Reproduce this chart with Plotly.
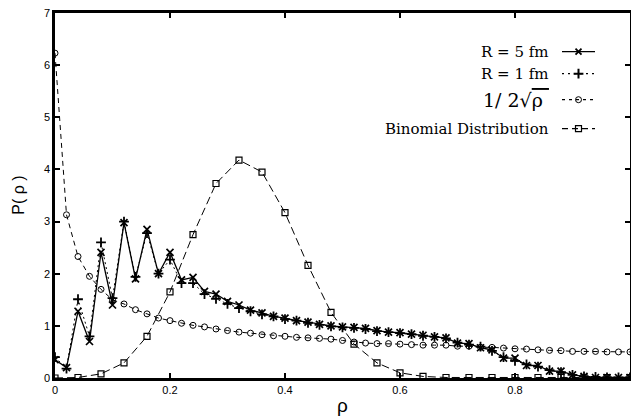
import plotly.graph_objects as go

# x grids
rho_fine = [round(0.02 * i, 2) for i in range(51)]
rho_binom = [round(0.04 * i, 2) for i in range(26)]

p_r5 = [0.35, 0.20, 1.28, 0.70, 2.41, 1.40, 2.98, 1.90, 2.85, 2.00,
        2.41, 1.88, 1.93, 1.66, 1.61, 1.47, 1.40, 1.30, 1.25, 1.18,
        1.15, 1.10, 1.07, 1.03, 1.00, 0.98, 0.97, 0.95, 0.91, 0.88,
        0.87, 0.84, 0.82, 0.79, 0.77, 0.67, 0.66, 0.58, 0.54, 0.38,
        0.38, 0.24, 0.24, 0.13, 0.13, 0.06, 0.03, 0.01, 0.01, 0.01, 0.01]
p_r1 = [0.40, 0.18, 1.51, 0.80, 2.60, 1.53, 3.00, 1.94, 2.78, 2.00,
        2.27, 1.82, 1.82, 1.61, 1.52, 1.42, 1.34, 1.28, 1.22, 1.18,
        1.13, 1.10, 1.06, 1.02, 0.99, 0.97, 0.96, 0.94, 0.90, 0.88,
        0.86, 0.84, 0.81, 0.79, 0.76, 0.68, 0.64, 0.60, 0.52, 0.40,
        0.33, 0.26, 0.22, 0.15, 0.11, 0.06, 0.03, 0.02, 0.01, 0.01, 0.01]
p_sqrt = [6.23, 3.13, 2.33, 1.95, 1.70, 1.50, 1.42, 1.31, 1.23, 1.15,
          1.10, 1.05, 1.01, 0.98, 0.94, 0.91, 0.88, 0.86, 0.83, 0.81,
          0.80, 0.78, 0.77, 0.76, 0.745, 0.72, 0.69, 0.67, 0.66, 0.66,
          0.65, 0.64, 0.63, 0.63, 0.63, 0.61, 0.61, 0.59, 0.587, 0.574,
          0.56, 0.555, 0.54, 0.53, 0.525, 0.51, 0.51, 0.51, 0.50, 0.50, 0.50]
p_binom = [0.00, 0.01, 0.08, 0.29, 0.80, 1.65, 2.75, 3.73, 4.18, 3.95,
           3.17, 2.16, 1.26, 0.65, 0.29, 0.10, 0.03, 0.01, 0.01, 0.01,
           0.01, 0.01, 0.01, 0.01, 0.01, 0.01]

legend_labels = ["R = 5 fm", "R = 1 fm",
                 "1/ 2\u221a<span style='text-decoration:overline'>\u03c1 </span>",
                 "Binomial Distribution"]

BLACK = "#000000"
SANS = "Liberation Sans, Arial, sans-serif"
SERIF = "DejaVu Serif, serif"
fig = go.Figure()

fig.add_trace(go.Scatter(x=rho_binom, y=p_binom, mode="lines+markers",
    line=dict(color=BLACK, width=1, dash="8px,4px"),
    marker=dict(symbol="square-open", size=6, color=BLACK, line=dict(width=1.2))))
fig.add_trace(go.Scatter(x=rho_fine, y=p_sqrt, mode="lines+markers",
    line=dict(color=BLACK, width=1, dash="5px,4px"),
    marker=dict(symbol="circle-open", size=6, color=BLACK, line=dict(width=1))))
fig.add_trace(go.Scatter(x=rho_fine, y=p_r1, mode="lines+markers",
    line=dict(color=BLACK, width=1, dash="2px,3px"),
    marker=dict(symbol="cross-thin-open", size=7, color=BLACK, line=dict(width=1.8))))
fig.add_trace(go.Scatter(x=rho_fine, y=p_r5, mode="lines+markers",
    line=dict(color=BLACK, width=1.3),
    marker=dict(symbol="x-thin-open", size=7, color=BLACK, line=dict(width=1.7))))

# legend (text left, sample right) on a pixel overlay axis
rows_y = [52, 74, 100, 129]
samples = [
    dict(dash="solid", symbol="x-thin-open", size=6, lw=1.8),
    dict(dash="2px,4px", symbol="cross-thin-open", size=7, lw=2),
    dict(dash="3px,4px", symbol="circle-open", size=6, lw=1),
    dict(dash="6px,4px", symbol="square-open", size=6, lw=1.2),
]
for lab, yy, s in zip(legend_labels, rows_y, samples):
    fig.add_trace(go.Scatter(x=[562, 595], y=[yy, yy], mode="lines",
        line=dict(color=BLACK, width=1.2, dash=s["dash"]),
        xaxis="x2", yaxis="y2", showlegend=False, hoverinfo="skip"))
    fig.add_trace(go.Scatter(x=[578.5], y=[yy], mode="markers",
        marker=dict(symbol=s["symbol"], size=s["size"], color=BLACK, line=dict(width=s["lw"])),
        xaxis="x2", yaxis="y2", showlegend=False, hoverinfo="skip"))
    big = lab.startswith("1/")
    fig.add_annotation(x=551, y=yy, xref="x2", yref="y2", text=lab, showarrow=False,
        xanchor="right", yanchor="middle",
        font=dict(family=SERIF, size=19 if big else 15, color=BLACK))

# axis titles
fig.add_annotation(x=0.5, y=-0.075, xref="paper", yref="paper", text="\u03c1", showarrow=False,
                   xanchor="center", yanchor="middle", font=dict(family=SANS, size=19, color=BLACK))
fig.add_annotation(x=-0.064, y=0.5, xref="paper", yref="paper", text="P( \u03c1 )", showarrow=False,
                   textangle=-90, xanchor="center", yanchor="middle", font=dict(family=SANS, size=16, color=BLACK))

axis_common = dict(showgrid=False, zeroline=False, showline=True, linecolor=BLACK, linewidth=2.5,
                   mirror="ticks", ticks="inside", ticklen=5, tickwidth=2, tickcolor=BLACK,
                   automargin=False,
                   tickfont=dict(family=SANS, size=11, color=BLACK))

fig.update_layout(
    width=631, height=418,
    margin=dict(l=55, r=1, t=13, b=40),
    paper_bgcolor="white", plot_bgcolor="white",
    showlegend=False,
    xaxis=dict(range=[0, 1], tickvals=[0, 0.2, 0.4, 0.6, 0.8, 1],
               ticktext=["0", "0.2", "0.4", "0.6", "0.8", "1"], **axis_common),
    yaxis=dict(range=[0, 7], tickvals=list(range(8)), **axis_common),
    xaxis2=dict(range=[55, 630], overlaying="x", visible=False, fixedrange=True),
    yaxis2=dict(range=[378.3, 13.3], overlaying="y", visible=False, fixedrange=True),
)

fig.write_html("out.html", config={"displayModeBar": False},
               post_script="document.body.style.margin='0';document.body.style.overflow='hidden';")
